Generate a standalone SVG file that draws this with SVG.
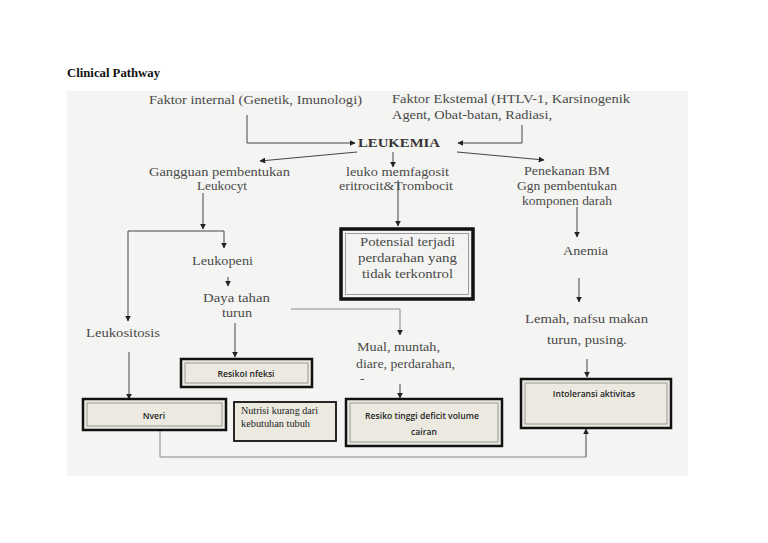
<svg xmlns="http://www.w3.org/2000/svg" width="768" height="543" viewBox="0 0 768 543">
<style>
.t{font-family:"Liberation Serif","DejaVu Serif",serif;font-size:13.5px;fill:#4a4a4a}
.tc{text-anchor:middle}
.s{font-family:"Open Sans","Liberation Sans",sans-serif;font-size:8.6px;font-weight:600;fill:#222;text-anchor:middle}
.ln{fill:none;stroke:#444;stroke-width:1}
.lg{fill:none;stroke:#888;stroke-width:1}
.bo{fill:#ebe9e0;stroke:#111;stroke-width:2.5}
.bi{fill:none;stroke:#777;stroke-width:0.7}
</style>
<defs>
<marker id="ah" viewBox="0 0 10 10" refX="9" refY="5" markerWidth="6" markerHeight="6" orient="auto" markerUnits="userSpaceOnUse">
<path d="M0,0 L10,5 L0,10 z" fill="#222"/>
</marker>
</defs>
<rect width="768" height="543" fill="#ffffff"/>
<text x="67" y="77" font-family="Liberation Serif,serif" font-size="11.5" font-weight="bold" fill="#111" textLength="93" lengthAdjust="spacingAndGlyphs">Clinical Pathway</text>
<rect x="67" y="91" width="621" height="385" fill="#f4f4f2"/>

<g id="connectors">
<path class="ln" d="M247,115 V143 H355" marker-end="url(#ah)"/>
<path class="ln" d="M522,125 V143 H458" marker-end="url(#ah)"/>
<path class="ln" d="M357,152 L260,161" marker-end="url(#ah)"/>
<path class="ln" d="M393,152 V167" marker-end="url(#ah)"/>
<path class="ln" d="M457,152 L544,160" marker-end="url(#ah)"/>
<path class="ln" d="M398,180 V226" marker-end="url(#ah)"/>
<path class="ln" d="M203,193 V229" marker-end="url(#ah)"/>
<path class="ln" d="M128,231 H224 V248" marker-end="url(#ah)"/>
<path class="ln" d="M128,231 V321" marker-end="url(#ah)"/>
<path class="ln" d="M228,277 V286" marker-end="url(#ah)"/>
<path class="ln" d="M129,352 V399" marker-end="url(#ah)"/>
<path class="ln" d="M235,323 V357" marker-end="url(#ah)"/>
<path class="lg" d="M291,309 H400 V335" marker-end="url(#ah)"/>
<path class="ln" d="M400,384 V398" marker-end="url(#ah)"/>
<path class="ln" d="M577,207 V237" marker-end="url(#ah)"/>
<path class="ln" d="M579,278 V302" marker-end="url(#ah)"/>
<path class="ln" d="M587,359 V377" marker-end="url(#ah)"/>
<path class="lg" d="M160,431 V457 H586"/>
<path class="ln" d="M586,457 V429" marker-end="url(#ah)"/>
</g>

<g id="faktor-internal"><text class="t" x="149" y="104" textLength="213" lengthAdjust="spacingAndGlyphs">Faktor internal (Genetik, Imunologi)</text></g>
<g id="faktor-eksternal">
<text class="t" x="392" y="103" textLength="238" lengthAdjust="spacingAndGlyphs">Faktor Ekstemal (HTLV-1, Karsinogenik</text>
<text class="t" x="392" y="119" textLength="160" lengthAdjust="spacingAndGlyphs">Agent, Obat-batan, Radiasi,</text>
</g>
<g id="leukemia"><text x="358" y="147" font-family="Liberation Serif,serif" font-size="13" font-weight="bold" fill="#333" textLength="82" lengthAdjust="spacingAndGlyphs">LEUKEMIA</text></g>
<g id="gangguan">
<text class="t" x="149" y="176" textLength="141" lengthAdjust="spacingAndGlyphs">Gangguan pembentukan</text>
<text class="t" x="197" y="190" textLength="50" lengthAdjust="spacingAndGlyphs">Leukocyt</text>
</g>
<g id="leuko-memfagosit">
<text class="t" x="346" y="176" textLength="103" lengthAdjust="spacingAndGlyphs">leuko memfagosit</text>
<text class="t" x="339" y="190" textLength="114" lengthAdjust="spacingAndGlyphs">eritrocit&amp;Trombocit</text>
</g>
<g id="penekanan">
<text class="t" x="524" y="175" textLength="86" lengthAdjust="spacingAndGlyphs">Penekanan BM</text>
<text class="t" x="517" y="190" textLength="100" lengthAdjust="spacingAndGlyphs">Ggn pembentukan</text>
<text class="t" x="522" y="205" textLength="90" lengthAdjust="spacingAndGlyphs">komponen darah</text>
</g>
<g id="potensial">
<rect x="341" y="229" width="132" height="70" fill="#f3f3f1" stroke="#111" stroke-width="3.5"/>
<rect x="345.5" y="233.5" width="123" height="61" class="bi"/>
<text class="t" x="360" y="246" textLength="95" lengthAdjust="spacingAndGlyphs">Potensial terjadi</text>
<text class="t" x="358" y="262" textLength="99" lengthAdjust="spacingAndGlyphs">perdarahan yang</text>
<text class="t" x="362" y="278" textLength="91" lengthAdjust="spacingAndGlyphs">tidak terkontrol</text>
</g>
<g id="leukopeni"><text class="t" x="192" y="265" textLength="61" lengthAdjust="spacingAndGlyphs">Leukopeni</text></g>
<g id="daya-tahan">
<text class="t" x="203" y="302" textLength="67" lengthAdjust="spacingAndGlyphs">Daya tahan</text>
<text class="t" x="222" y="317" textLength="30" lengthAdjust="spacingAndGlyphs">turun</text>
</g>
<g id="leukositosis"><text class="t" x="86" y="337" textLength="74" lengthAdjust="spacingAndGlyphs">Leukositosis</text></g>
<g id="mual">
<text class="t" x="357" y="351" textLength="83" lengthAdjust="spacingAndGlyphs">Mual, muntah,</text>
<text class="t" x="356" y="368" textLength="99" lengthAdjust="spacingAndGlyphs">diare, perdarahan,</text>
<text class="t" x="360" y="383" font-size="6">-</text>
</g>
<g id="anemia"><text class="t" x="563" y="255" textLength="45" lengthAdjust="spacingAndGlyphs">Anemia</text></g>
<g id="lemah">
<text class="t" x="525" y="323" textLength="123" lengthAdjust="spacingAndGlyphs">Lemah, nafsu makan</text>
<text class="t" x="547" y="344" textLength="80" lengthAdjust="spacingAndGlyphs">turun, pusing.</text>
</g>
<g id="resiko-infeksi">
<rect x="181" y="359" width="131" height="28" class="bo"/>
<rect x="185" y="363" width="123" height="20" class="bi"/>
<text class="s" x="246" y="377">ResikoI nfeksi</text>
</g>
<g id="nveri">
<rect x="83" y="399" width="143" height="31" class="bo"/>
<rect x="87" y="403" width="135" height="23" class="bi"/>
<text class="s" x="154" y="419">Nveri</text>
</g>
<g id="nutrisi">
<rect x="234" y="402" width="102" height="39" fill="#ebe9e0" stroke="#111" stroke-width="1.8"/>
<text x="241" y="414" font-family="Liberation Serif,serif" font-size="9.5" fill="#222" textLength="77" lengthAdjust="spacingAndGlyphs">Nutrisi kurang dari</text>
<text x="241" y="427" font-family="Liberation Serif,serif" font-size="9.5" fill="#222" textLength="69" lengthAdjust="spacingAndGlyphs">kebutuhan tubuh</text>
</g>
<g id="resiko-tinggi">
<rect x="346" y="399" width="156" height="47" class="bo"/>
<rect x="350" y="403" width="148" height="39" class="bi"/>
<text class="s" x="422" y="419">Resiko tinggi deficit volume</text>
<text class="s" x="424" y="435">cairan</text>
</g>
<g id="intoleransi">
<rect x="521" y="379" width="150" height="49" class="bo"/>
<rect x="525" y="383" width="142" height="41" class="bi"/>
<text class="s" x="594" y="397">Intoleransi aktivitas</text>
</g>
</svg>
